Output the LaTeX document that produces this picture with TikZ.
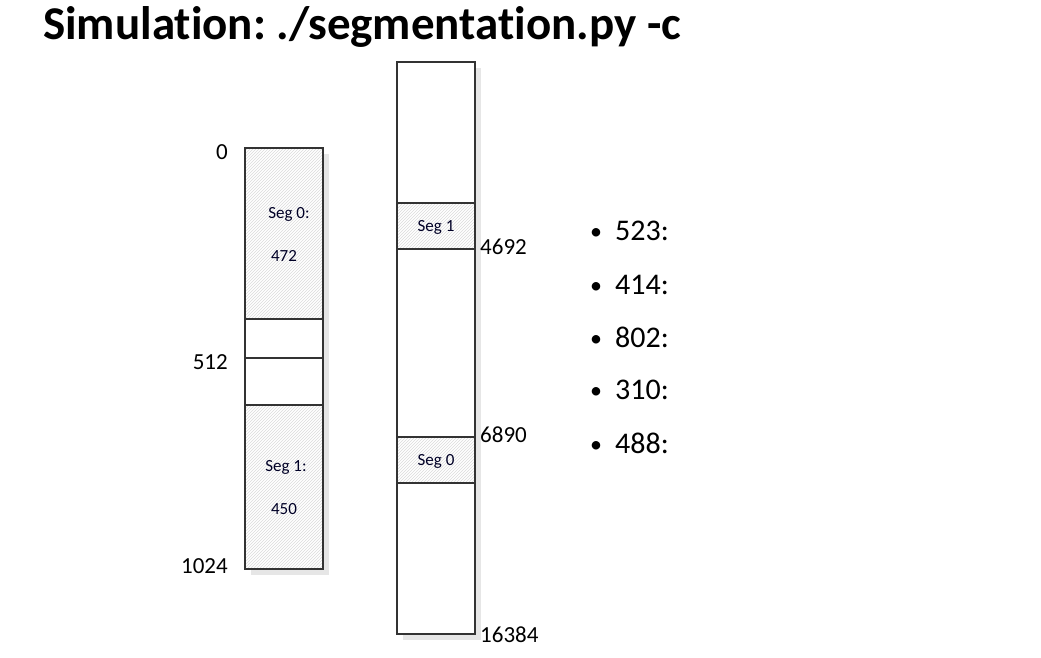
\documentclass[tikz,border=0pt]{standalone}
\usepackage{fontspec}
\setmainfont{Carlito}[Ligatures=NoCommon]
\usetikzlibrary{patterns,shadows}
\begin{document}
\frenchspacing
\begin{tikzpicture}[x=1pt,y=-1pt,
  mem/.style={draw=black!80,line width=1.3pt,fill=white,inner sep=0pt,minimum width=78pt,
    drop shadow={shadow xshift=6pt,shadow yshift=-6pt,opacity=0.2,fill=black!50}},
  seg/.style={draw=black!80,line width=1.3pt,inner sep=0pt,minimum width=78pt,
    pattern=north east lines,pattern color=black!14},
  free/.style={draw=black!80,line width=1.3pt,fill=white,inner sep=0pt,minimum width=78pt},
  addr/.style={font=\fontsize{23}{26}\selectfont,inner sep=0pt},
  segtxt/.style={font=\fontsize{17}{20}\selectfont,text=black!85!blue,align=center},
  item/.style={font=\fontsize{30}{34}\selectfont,inner sep=0pt,anchor=west}
]
\useasboundingbox (0,0) rectangle (1041,657);
\node[anchor=west,inner sep=0pt,font=\fontsize{47}{52}\bfseries] (title) at (43,27) {Simulation: ./segmentation.py -c};

% virtual address space
\node[mem,minimum height=421pt] (vas) at (284,358.5) {};
\node[seg,minimum height=171pt] (vseg0) at (284,233.5) {};
\node[free,minimum height=39pt] (vfree1) at (284,338.5) {};
\node[free,minimum height=47pt] (vfree2) at (284,381.5) {};
\node[seg,minimum height=164pt] (vseg1) at (284,487) {};
\node[segtxt] (t0a) at (289,214) {Seg 0:};
\node[segtxt] (t0b) at (284,256) {472};
\node[segtxt] (t1a) at (286,467) {Seg 1:};
\node[segtxt] (t1b) at (284,509) {450};
\node[addr,anchor=east] (a0) at (228,152) {0};
\node[addr,anchor=east] (a512) at (228,362) {512};
\node[addr,anchor=east] (a1024) at (228,566) {1024};

% physical memory
\node[mem,minimum height=572pt] (pm) at (436,348) {};
\node[seg,minimum height=46pt] (pseg1) at (436,226) {};
\node[seg,minimum height=46pt] (pseg0) at (436,460) {};
\node[segtxt] (p1) at (436,227) {Seg 1};
\node[segtxt] (p0) at (436,461) {Seg 0};
\node[addr,anchor=west] (b4692) at (480,247) {4692};
\node[addr,anchor=west] (b6890) at (480,435) {6890};
\node[addr,anchor=west] (b16384) at (480,635) {16384};

% list
\foreach \v/\y in {523/231,414/285,802/337,310/390,488/443}{
  \node[item] (i\v) at (590,\y) {{\fontsize{24}{28}\selectfont\raisebox{1pt}{\textbullet}}\hspace{13pt}\v:};
}
\end{tikzpicture}
\end{document}
